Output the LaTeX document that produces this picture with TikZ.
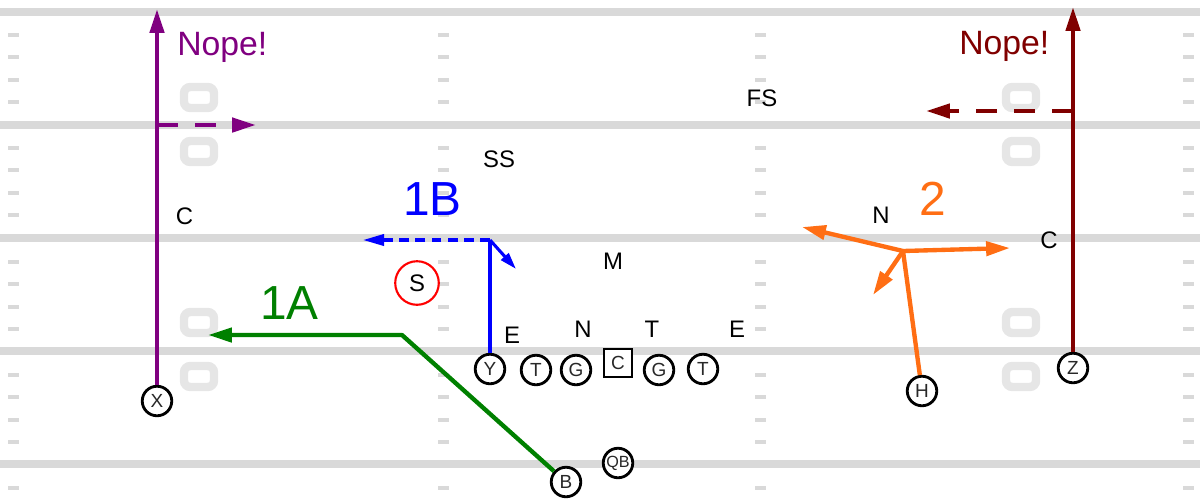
\documentclass[tikz,border=0pt]{standalone}
\usepackage{fontspec}
\setmainfont{Liberation Sans}
\usetikzlibrary{arrows.meta}
\definecolor{fieldgray}{RGB}{217,217,217}
\definecolor{numgray}{RGB}{230,230,230}
\definecolor{nopepurple}{RGB}{128,0,128}
\definecolor{nopered}{RGB}{128,0,0}
\definecolor{routegreen}{RGB}{0,128,0}
\definecolor{routeblue}{RGB}{0,0,255}
\definecolor{routeorange}{RGB}{255,110,20}
\definecolor{lettergray}{RGB}{40,40,40}
\tikzset{>={Triangle[length=17pt,width=10pt]},
  yardline/.style={fieldgray,line width=5pt},
  yardnum/.style={numgray,line width=6pt,rounded corners=4.5pt},
  player/.style={circle,draw,fill=white,line width=2pt,minimum size=21pt,inner sep=0pt,text=lettergray,font=\fontsize{13.5}{13.5}\selectfont},
  snapper/.style={rectangle,draw,fill=white,line width=2pt,minimum size=20pt,inner sep=0pt,text=lettergray,font=\fontsize{13.5}{13.5}\selectfont},
  defman/.style={inner sep=0pt,anchor=base,font=\fontsize{17}{17}\selectfont},
  nopetext/.style={inner sep=0pt,anchor=base west,font=\fontsize{24}{24}\selectfont},
  routetext/.style={inner sep=0pt,anchor=base west,font=\fontsize{34}{34}\selectfont},
  routeline/.style={line width=3.1pt},
  dashroute/.style={line width=3.1pt,dash pattern=on 15pt off 12pt},
}

\begin{document}
\begin{tikzpicture}[x=0.025cm,y=-0.025cm]
	\useasboundingbox (0,0) rectangle (1200,502);
	
	% field
	\foreach \yl in {12,125,238,351,464}
		\draw[yardline] (0,\yl) -- (1200,\yl);
	\foreach \hx in {13.5,443,760,1188}
		\foreach \hy in {35,57,80,102,148,170,193,215,262,284,307,329,375,397,420,442,488}
			\fill[fieldgray] (\hx-5.5,\hy-2) rectangle (\hx+5.5,\hy+2);
	\foreach \nx in {184,1006}
		\foreach \ny in {87,141,312,366}
			\draw[yardnum] (\nx,\ny) rectangle ++(30,21);
	
	\coordinate (Xtop) at (157,9);
	\coordinate (Xcut) at (157,125);
	\coordinate (Xin) at (256,125);
	\coordinate (Ztop) at (1073,7);
	\coordinate (Zcut) at (1073,111);
	\coordinate (Zin) at (926,111);
	\coordinate (Bturn) at (402,335);
	\coordinate (Bend) at (208,335);
	\coordinate (Ybreak) at (490,240);
	\coordinate (Yout) at (363,240);
	\coordinate (Ydown) at (516,269);
	\coordinate (Hbreak) at (903,251);
	\coordinate (Hleft) at (802,227);
	\coordinate (Hright) at (1010,248);
	\coordinate (Hdown) at (873,295);
	
	% offense
	\node[player] (X) at (157,401) {X};
	\node[player] (Y) at (490,369) {Y};
	\node[player] (LT) at (536,370) {T};
	\node[player] (LG) at (576,370) {G};
	\node[snapper] (C) at (618,363) {C};
	\node[player] (RG) at (659,370) {G};
	\node[player] (RT) at (703,369) {T};
	\node[player,font=\fontsize{11.5}{11.5}\selectfont] (QB) at (618,463) {QB};
	\node[player] (B) at (566,482) {B};
	\node[player] (H) at (922,391) {H};
	\node[player] (Z) at (1073,368) {Z};
	
	% defense
	\node[defman] (CL) at (184.5,224) {C};
	\node[defman] (SS) at (499,167) {SS};
	\node[defman] (FS) at (762,106) {FS};
	\node[defman] (M) at (613,269) {M};
	\node[defman] (EL) at (512,343) {E};
	\node[defman] (NT) at (583,337) {N};
	\node[defman] (DT) at (652,337) {T};
	\node[defman] (ER) at (737,337) {E};
	\node[defman] (NR) at (881,223) {N};
	\node[defman] (CR) at (1049,248) {C};
	\node[circle,draw=red,line width=1.5pt,minimum size=31pt,inner sep=0pt,font=\fontsize{17}{17}\selectfont] (S) at (417,283) {S};
	
	% routes
	\draw[routeline,nopepurple,->] (X) -- (Xtop);
	\draw[dashroute,nopepurple,->] (Xcut) -- (Xin);
	\node[nopetext,nopepurple] (nopeL) at (177,55) {Nope!};
	
	\draw[routeline,nopered,->] (Z) -- (Ztop);
	\draw[dashroute,nopered,->] (Zcut) -- (Zin);
	\node[nopetext,nopered] (nopeR) at (959,54) {Nope!};
	
	\draw[routeline,routegreen,->,line join=round] (B) -- (Bturn) -- (Bend);
	\node[routetext,routegreen] (oneA) at (260,319) {1A};
	
	\draw[routeline,routeblue] (Y) -- (Ybreak);
	\draw[line width=2.2pt,routeblue,dash pattern=on 7pt off 4.5pt,-{Triangle[length=15pt,width=8pt]}] (Ybreak) -- (Yout);
	\draw[line width=2.2pt,routeblue,-{Triangle[length=12pt,width=7pt]}] (Ybreak) -- (Ydown);
	\node[routetext,routeblue] (oneB) at (403,215) {1B};
	
	\draw[routeline,routeorange] (H) -- (Hbreak);
	\draw[routeline,routeorange,->] (Hbreak) -- (Hleft);
	\draw[routeline,routeorange,->] (Hbreak) -- (Hright);
	\draw[routeline,routeorange,->] (Hbreak) -- (Hdown);
	\node[routetext,routeorange] (two) at (919,215) {2};
\end{tikzpicture}
\end{document}
